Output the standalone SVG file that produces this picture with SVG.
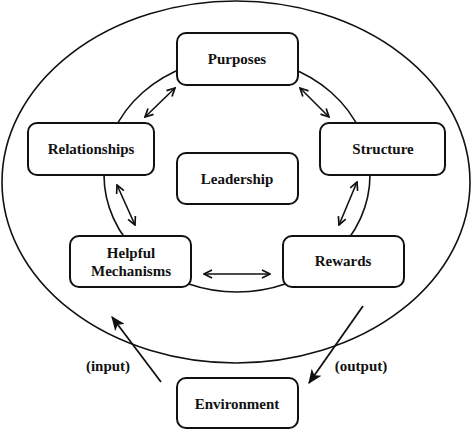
<svg xmlns="http://www.w3.org/2000/svg" width="474" height="431" viewBox="0 0 474 431">
<defs>
<marker id="open" viewBox="0 0 10 10" refX="9" refY="5" markerWidth="10" markerHeight="10" markerUnits="userSpaceOnUse" orient="auto-start-reverse">
<path d="M1,1 L9,5 L1,9" fill="none" stroke="#111" stroke-width="1.7"/>
</marker>
<marker id="solid" viewBox="0 0 12 10" refX="11" refY="5" markerWidth="15" markerHeight="12" markerUnits="userSpaceOnUse" orient="auto">
<path d="M0,0 L12,5 L0,10 L3,5 Z" fill="#111"/>
</marker>
<style>
.ring{fill:none;stroke:#111;stroke-width:1.6}
.box{fill:#fff;stroke:#111;stroke-width:2}
text{font-family:'Liberation Serif','Times New Roman',serif;font-weight:bold;font-size:15px;fill:#111;text-anchor:middle}
.dbl{stroke:#111;stroke-width:1.6;fill:none;marker-start:url(#open);marker-end:url(#open)}
.io{stroke:#111;stroke-width:1.8;fill:none;marker-end:url(#solid)}
</style>
</defs>
<ellipse class="ring" cx="236" cy="182" rx="234" ry="181"/>
<ellipse class="ring" cx="237" cy="175" rx="133" ry="117"/>
<g id="connectors">
<line class="dbl" x1="175" y1="88" x2="145" y2="117"/>
<line class="dbl" x1="300" y1="88" x2="329" y2="117"/>
<line class="dbl" x1="117" y1="185" x2="135" y2="225"/>
<line class="dbl" x1="357" y1="182" x2="339" y2="225"/>
<line class="dbl" x1="204" y1="274" x2="270" y2="274"/>
<line class="io" x1="161" y1="382" x2="112" y2="317"/>
<line class="io" x1="363" y1="306" x2="309" y2="383"/>
</g>
<g id="purposes"><rect class="box" x="177" y="33" width="121" height="52" rx="9"/><text x="237" y="64">Purposes</text></g>
<g id="relationships"><rect class="box" x="28" y="123" width="126" height="52" rx="9"/><text x="91" y="154">Relationships</text></g>
<g id="structure"><rect class="box" x="320" y="123" width="125" height="52" rx="9"/><text x="383" y="154">Structure</text></g>
<g id="leadership"><rect class="box" x="177" y="153" width="121" height="51" rx="9"/><text x="237" y="184">Leadership</text></g>
<g id="helpful"><rect class="box" x="70" y="236" width="121" height="51" rx="9"/><text x="131" y="258">Helpful</text><text x="131" y="276">Mechanisms</text></g>
<g id="rewards"><rect class="box" x="283" y="236" width="121" height="51" rx="9"/><text x="343" y="266">Rewards</text></g>
<g id="environment"><rect class="box" x="177" y="378" width="121" height="50" rx="9"/><text x="237" y="409">Environment</text></g>
<g id="labels"><text x="108" y="371">(input)</text><text x="361" y="371">(output)</text></g>
</svg>
